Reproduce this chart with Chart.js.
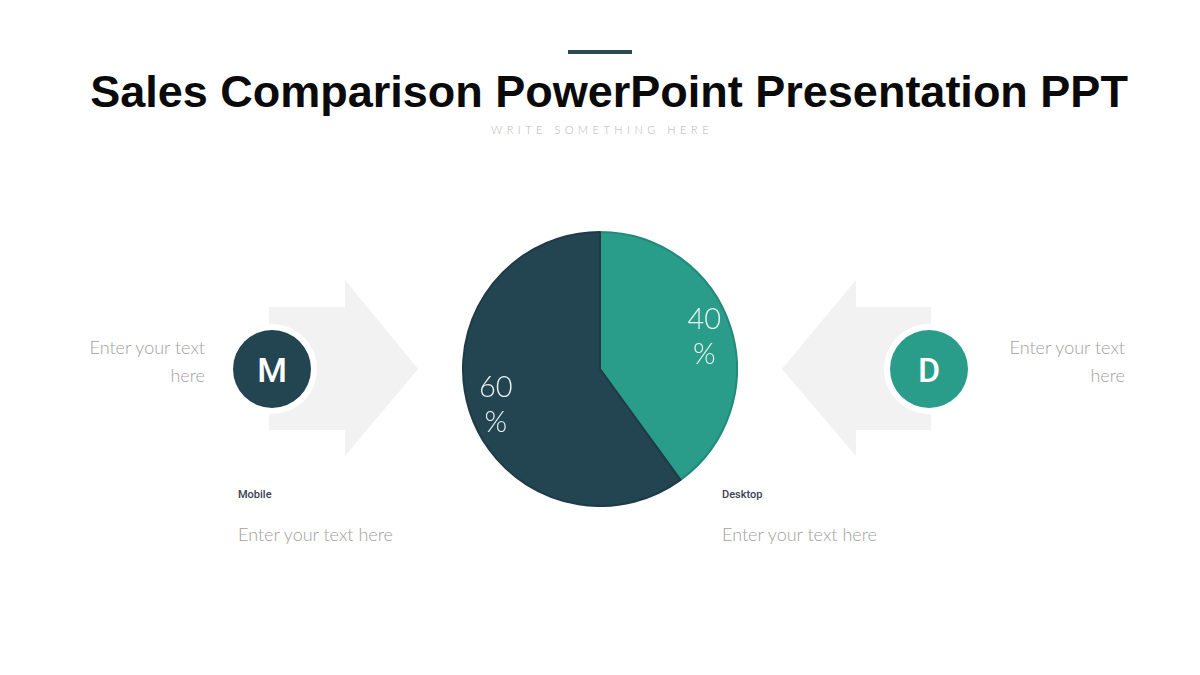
<!DOCTYPE html>
<html>
<head>
<meta charset="utf-8">
<script src="https://cdn.jsdelivr.net/npm/chart.js@4.4.0/dist/chart.umd.min.js"></script>
<style>
  html, body { margin: 0; padding: 0; background: #fff; }
  #page { position: relative; width: 1200px; height: 675px; overflow: hidden; font-family: Lato, "Open Sans", sans-serif; }
  .abs { position: absolute; }
  #topbar { left: 568px; top: 50px; width: 64px; height: 4px; background: #2b4a56; }
  #title { left: 0; width: 1200px; top: 66px; text-align: center; font-family: "Liberation Sans", Arial, sans-serif; font-weight: bold; font-size: 45px; color: #0a0a0a; padding-left: 18px; box-sizing: border-box; }
  #subtitle { left: 0; width: 1200px; top: 123px; text-align: center; font-size: 11px; letter-spacing: 4.5px; color: #b4b4b4; font-weight: 300; padding-left: 4px; box-sizing: border-box; }
  .side { font-size: 18px; font-weight: 300; color: #a0a0a0; line-height: 28px; text-align: right; width: 170px; }
  .cap { font-family: Roboto, sans-serif; font-weight: 500; font-size: 11px; color: #3c4252; }
  .body { font-size: 18px; font-weight: 300; color: #a0a0a0; }
  #pieWrap { left: 462px; top: 231px; width: 276px; height: 276px; }
</style>
</head>
<body>
<div id="page">
  <svg class="abs" style="left:0;top:0" width="1200" height="675">
    <polygon points="269,307 345,307 345,280 418,369 345,456 345,430 269,430" fill="#f2f2f2"/>
    <polygon points="931,307 856,307 856,280 782,369 856,456 856,430 931,430" fill="#f2f2f2"/>
    <circle cx="272" cy="369" r="45" fill="#ffffff"/>
    <circle cx="272" cy="369" r="39" fill="#234552"/>
    <text x="272" y="382" text-anchor="middle" font-family="Roboto, sans-serif" font-weight="500" font-size="34" fill="#fff">M</text>
    <circle cx="929" cy="369" r="45" fill="#ffffff"/>
    <circle cx="929" cy="369" r="39" fill="#2a9d8a"/>
    <text x="929" y="382" text-anchor="middle" font-family="Roboto, sans-serif" font-weight="500" font-size="34" fill="#fff">D</text>
  </svg>
  <div id="topbar" class="abs"></div>
  <div id="title" class="abs">Sales Comparison PowerPoint Presentation PPT</div>
  <div id="subtitle" class="abs">WRITE SOMETHING HERE</div>

  <div class="abs side" style="left:35px;top:333px;">Enter your text<br>here</div>
  <div class="abs side" style="left:955px;top:333px;">Enter your text<br>here</div>

  <div class="abs cap" style="left:238px;top:488px;">Mobile</div>
  <div class="abs body" style="left:238px;top:523px;">Enter your text here</div>
  <div class="abs cap" style="left:722px;top:488px;">Desktop</div>
  <div class="abs body" style="left:722px;top:523px;">Enter your text here</div>

  <div id="pieWrap" class="abs"><canvas id="pie"></canvas></div>
</div>
<script>
const categories = ['Desktop', 'Mobile'];
const shares = [40, 60];

// draws "40 / %" style labels inside each slice
const sliceLabels = {
  id: 'sliceLabels',
  afterDatasetsDraw(chart) {
    const ctx = chart.ctx;
    const meta = chart.getDatasetMeta(0);
    ctx.save();
    ctx.fillStyle = '#e9f3f1';
    ctx.font = '300 29px Lato, "Open Sans", sans-serif';
    ctx.textAlign = 'center';
    ctx.textBaseline = 'middle';
    meta.data.forEach((arc, i) => {
      const p = arc.getProps(['x', 'y', 'startAngle', 'endAngle', 'outerRadius'], true);
      const mid = (p.startAngle + p.endAngle) / 2;
      const r = p.outerRadius * 0.8;
      const x = p.x + Math.cos(mid) * r;
      const y = p.y + Math.sin(mid) * r;
      ctx.fillText(String(shares[i]), x, y - 15);
      ctx.fillText('%', x, y + 20);
    });
    ctx.restore();
  }
};

new Chart(document.getElementById('pie'), {
  type: 'pie',
  data: {
    labels: categories,
    datasets: [{
      data: shares,
      backgroundColor: ['#2a9d8a', '#234552'],
      borderColor: ['#23897a', '#1e3b47'],
      borderWidth: 2
    }]
  },
  options: {
    responsive: true,
    maintainAspectRatio: false,
    animation: false,
    layout: { padding: 0 },
    plugins: {
      legend: { display: false },
      tooltip: { enabled: false }
    }
  },
  plugins: [sliceLabels]
});
</script>
</body>
</html>
